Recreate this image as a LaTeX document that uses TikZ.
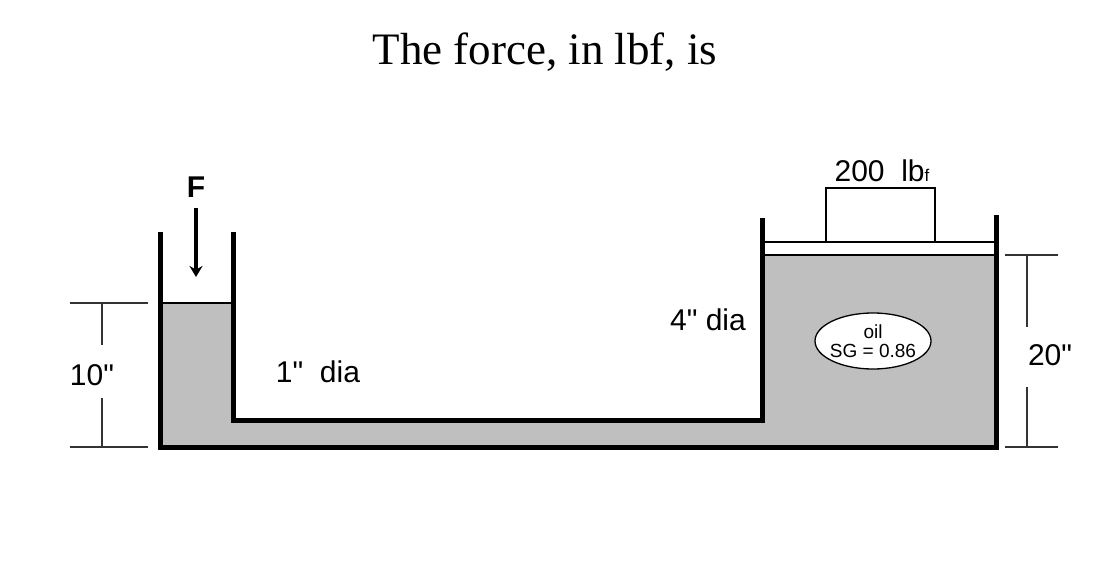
\documentclass[tikz,border=0pt]{standalone}
\usepackage{fontspec}
\usetikzlibrary{arrows.meta}
\setmainfont{Liberation Serif}
\newfontfamily\arial{Liberation Sans}
\begin{document}
\begin{tikzpicture}[x=1pt,y=-1pt,
  wall/.style={line width=5pt},
  dim/.style={line width=1.3pt,draw=black!80},
  lab/.style={font=\arial\fontsize{30}{32}\selectfont}]
\useasboundingbox (0,0) rectangle (1109,561);
\node (title) at (545,52) {\fontsize{45}{50}\selectfont The force, in lbf, is};
% liquid
\fill[black!25] (160,303) -- (233,303) -- (233,420) -- (762,420) -- (762,255) -- (996,255) -- (996,447) -- (160,447) -- cycle;
\draw[line width=1.3pt] (160,303) -- (233,303);
\draw[line width=1.3pt] (762,255) -- (996,255);
\draw[line width=1.3pt] (762,242) -- (996,242);
% walls
\draw[wall] (160,232) -- (160,447) -- (996,447) -- (996,215);
\draw[wall] (233,232) -- (233,420) -- (762,420) -- (762,218);
% weight
\node[draw,line width=1.3pt,minimum width=109pt,minimum height=54pt,inner sep=0pt] (w) at (880.5,215) {};
\node[lab] (wl) at (882,171) {200\ \ lb\raisebox{0pt}{\fontsize{17}{18}\selectfont f}};
% oil ellipse
\draw[fill=white,line width=1.3pt] (873,341) ellipse (58 and 28);
\node[lab,font=\arial\fontsize{19}{19}\selectfont,align=center,inner sep=0pt] (oil) at (873,341) {oil\\SG = 0.86};
% F
\node[font=\arial\bfseries\fontsize{30}{32}\selectfont] (F) at (196,187) {F};
\coordinate (fa) at (196,208);
\coordinate (fb) at (196,277);
\draw[line width=3.5pt,-{Stealth[length=11pt,width=13pt]}] (fa) -- (fb);
% dims
\draw[dim] (70,303) -- (148,303) (70,447) -- (148,447) (102,303) -- (102,345) (102,398) -- (102,447);
\node[lab] (d10) at (92,375) {10"};
\draw[dim] (1005,255) -- (1058,255) (1005,447) -- (1058,447) (1027,255) -- (1027,327) (1027,387) -- (1027,447);
\node[lab] (d20) at (1050,355) {20"};
\node[lab] (d1) at (318,372) {1"\ \ dia};
\node[lab] (d4) at (708,320) {4" dia};
\end{tikzpicture}
\end{document}
